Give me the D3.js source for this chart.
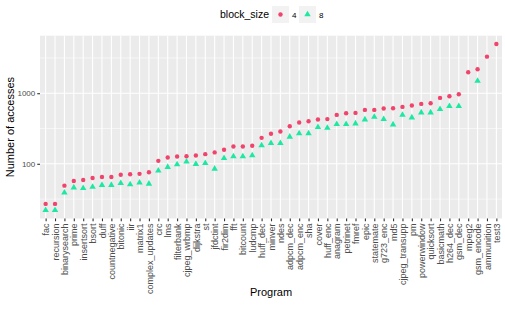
<!DOCTYPE html>
<meta charset="utf-8">
<title>accesses</title>
<style>
body { margin: 0; background: #fff; }
text { font-family: "Liberation Sans", Arial, sans-serif; }
</style>
<svg></svg>
<script src="https://d3js.org/d3.v7.min.js"></script>
<script>
var programs = ["fac", "recursion", "binarysearch", "prime", "insertsort", "bsort", "duff",
  "countnegative", "bitonic", "iir", "matrix1", "complex_updates", "crc", "lms", "filterbank",
  "cjpeg_wrbmp", "dijkstra", "st", "jfdctint", "fir2dim", "fft", "bitcount", "ludcmp",
  "huff_dec", "minver", "ndes", "adpcm_dec", "adpcm_enc", "sha", "cover", "huff_enc",
  "anagram", "petrinet", "fmref", "epic", "statemate", "g723_enc", "md5", "cjpeg_transupp",
  "pm", "powerwindow", "quicksort", "basicmath", "h264_dec", "gsm_dec", "mpeg2",
  "gsm_encode", "ammunition", "test3"];

// block_size = 4
var size4 = [27, 27, 49, 57, 59, 63, 65, 65, 70, 71, 72, 76, 110, 123, 127, 128, 131, 137,
  145, 158, 176, 176, 180, 233, 266, 287, 341, 384, 401, 424, 430, 493, 521, 526, 580, 580,
  606, 613, 640, 669, 706, 721, 858, 906, 967, 1980, 2183, 3297, 4982];

// block_size = 8 (null = missing)
var size8 = [22, 22, 39, 46, 45, 47, 50, 50, 53, 51, 54, 52, 80, 90, 98, 107, 99, 102, 85,
  120, 127, 127, 131, 182, 196, 196, 241, 269, 269, 330, 323, 364, 364, 372, 424, 462, 428,
  360, 493, 452, 532, 532, 593, 654, 654, null, 1493, null, null];

var yTicks = [100, 1000];
var yMinor = [31.6228, 316.228, 3162.28];

var W = 505, H = 313;
var pLeft = 40, pRight = 502, pTop = 35.7, pBottom = 218.5;

var svg = d3.select("svg").attr("width", W).attr("height", H);

var x = d3.scalePoint()
  .domain(programs)
  .range([pLeft, pRight])
  .padding(0.6);

var all = size4.concat(size8.filter(d => d != null));
var lo = Math.log10(d3.min(all)), hi = Math.log10(d3.max(all));
var pad = (hi - lo) * 0.05;
var y = d3.scaleLog()
  .domain([Math.pow(10, lo - pad), Math.pow(10, hi + pad)])
  .range([pBottom, pTop]);

var red = "#F0446C", green = "#1FE8A2";

// panel
svg.append("rect")
  .attr("x", pLeft).attr("y", pTop)
  .attr("width", pRight - pLeft).attr("height", pBottom - pTop)
  .attr("fill", "#EBEBEB");

var grid = svg.append("g").attr("stroke", "#fff");
grid.selectAll(".minor").data(yMinor).enter().append("line")
  .attr("x1", pLeft).attr("x2", pRight)
  .attr("y1", d => y(d)).attr("y2", d => y(d))
  .attr("stroke-width", 0.55);
grid.selectAll(".major").data(yTicks).enter().append("line")
  .attr("x1", pLeft).attr("x2", pRight)
  .attr("y1", d => y(d)).attr("y2", d => y(d))
  .attr("stroke-width", 1.1);
grid.selectAll(".vx").data(programs).enter().append("line")
  .attr("x1", d => x(d)).attr("x2", d => x(d))
  .attr("y1", pTop).attr("y2", pBottom)
  .attr("stroke-width", 1.1);

// axes
var xAxis = svg.append("g")
  .attr("transform", "translate(0," + pBottom + ")")
  .call(d3.axisBottom(x).tickSize(2.75).tickPadding(2));
xAxis.select(".domain").remove();
xAxis.selectAll(".tick line").attr("stroke", "#333").attr("stroke-width", 1.1);
xAxis.selectAll(".tick text")
  .attr("font-size", 9)
  .attr("fill", "#4D4D4D")
  .attr("font-family", "Liberation Sans, Arial, sans-serif")
  .attr("text-anchor", "end")
  .attr("transform", "rotate(-90)")
  .attr("x", -5)
  .attr("y", 0)
  .attr("dy", "0.35em");

var yAxis = svg.append("g")
  .attr("transform", "translate(" + pLeft + ",0)")
  .call(d3.axisLeft(y).tickValues(yTicks).tickFormat(d3.format("d")).tickSize(2.75).tickPadding(2));
yAxis.select(".domain").remove();
yAxis.selectAll(".tick line").attr("stroke", "#333").attr("stroke-width", 1.1);
yAxis.selectAll(".tick text")
  .attr("font-size", 8)
  .attr("fill", "#4D4D4D")
  .attr("font-family", "Liberation Sans, Arial, sans-serif");

// points
var tri = d3.symbol().type(d3.symbolTriangle).size(18);

svg.append("g").selectAll("circle")
  .data(programs)
  .enter().append("circle")
  .attr("cx", d => x(d))
  .attr("cy", (d, i) => y(size4[i]))
  .attr("r", 2.2)
  .attr("fill", red);

svg.append("g").selectAll("path")
  .data(programs.filter((d, i) => size8[i] != null))
  .enter().append("path")
  .attr("d", tri)
  .attr("transform", d => "translate(" + x(d) + "," + y(size8[programs.indexOf(d)]) + ")")
  .attr("fill", green);

// axis titles
svg.append("text")
  .attr("x", (pLeft + pRight) / 2)
  .attr("y", 296)
  .attr("text-anchor", "middle")
  .attr("font-size", 11)
  .attr("fill", "#000")
  .text("Program");

svg.append("text")
  .attr("transform", "translate(14," + (pTop + pBottom) / 2 + ") rotate(-90)")
  .attr("text-anchor", "middle")
  .attr("font-size", 11)
  .attr("fill", "#000")
  .text("Number of accesses");

// legend
var legend = svg.append("g");
legend.append("text")
  .attr("x", 220).attr("y", 18)
  .attr("font-size", 10.5)
  .text("block_size");

var keys = [{lab: "4", col: red, shape: "c", x: 272}, {lab: "8", col: green, shape: "t", x: 299}];
var key = legend.selectAll(".key").data(keys).enter().append("g")
  .attr("transform", d => "translate(" + d.x + ",6)");
key.append("rect")
  .attr("width", 17).attr("height", 17)
  .attr("fill", "#F2F2F2");
key.filter(d => d.shape == "c").append("circle")
  .attr("cx", 8.5).attr("cy", 8.5).attr("r", 2.2).attr("fill", d => d.col);
key.filter(d => d.shape == "t").append("path")
  .attr("d", tri).attr("transform", "translate(8.5,8.5)").attr("fill", d => d.col);
key.append("text")
  .attr("x", 20).attr("y", 11.5)
  .attr("font-size", 8)
  .attr("fill", "#000")
  .text(d => d.lab);
</script>
